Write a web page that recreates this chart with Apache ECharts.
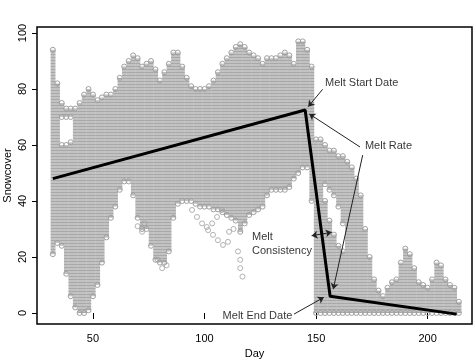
<!DOCTYPE html>
<html><head><meta charset="utf-8">
<script src="https://cdn.jsdelivr.net/npm/echarts@6/dist/echarts.min.js"></script>
<style>html,body{margin:0;padding:0;background:#fff}#c{width:474px;height:361px}</style>
</head><body><div id="c"></div>
<script>
// ---- data ----
const days = [32,34,36,38,40,42,44,46,48,50,52,54,56,58,60,62,64,66,68,70,72,74,76,78,80,82,84,86,88,90,
  92,94,96,98,100,102,104,106,108,110,112,114,116,118,120,122,124,126,128,130,132,134,136,138,140,142,144,146,148,150,
  152,154,156,158,160,162,164,166,168,170,172,174,176,178,180,182,184,186,188,190,192,194,196,198,200,202,204,206,208,210,212,214];
const cloudLow = [21,25,24,14,6,2,0,0,1,6,10,18,27,34,38,44,47,47,42,34,30,30,24,19,18,18,22,34,39,40,
  40,40,39,38,38,38,37,37,36,35,34,33,29,32,35,36,37,38,42,44,44,44,44,45,48,50,52,52,40,0,
  0,0,0,0,0,0,0,0,0,0,0,0,0,0,0,0,0,0,0,0,0,0,0,0,0,0,0,0,0,0,0,0];
const cloudHigh = [94,82,75,73,73,73,75,78,80,78,76,77,78,78,80,84,88,90,92,91,88,89,90,87,83,86,89,93,93,88,
  84,81,80,80,80,81,83,86,89,91,93,95,96,95,93,92,91,89,91,91,91,92,93,92,89,97,97,94,88,62,
  62,60,58,58,56,56,54,52,48,42,30,20,12,8,6,9,11,12,18,23,21,16,11,10,9,12,18,17,12,10,9,4];
// empty band inside a day's column (null = none)
const holeLow = [null,null,60,60,61,null,null,null,null,null,null,null,null,null,null,null,null,null,null,null,null,null,null,null,null,null,null,null,null,null,
  null,null,null,null,null,null,null,null,null,null,null,null,null,null,null,null,null,null,null,null,null,null,null,null,null,null,null,null,null,null,
  null,40,33,28,24,22,null,null,null,null,null,null,null,null,null,null,null,null,null,null,null,null,null,null,null,null,null,null,null,null,null,null];
const holeHigh = [null,null,70,70,70,null,null,null,null,null,null,null,null,null,null,null,null,null,null,null,null,null,null,null,null,null,null,null,null,null,
  null,null,null,null,null,null,null,null,null,null,null,null,null,null,null,null,null,null,null,null,null,null,null,null,null,null,null,null,null,null,
  null,46,44,42,38,32,null,null,null,null,null,null,null,null,null,null,null,null,null,null,null,null,null,null,null,null,null,null,null,null,null,null];
const scattered = [[70,31],[72,29],[73,32],[79,19],[81,16],[83,17],[94.4,36.8],[96.6,34.3],[98.9,32],[101,30.7],[103.4,32],
  [105.6,34.3],[107.8,36.8],[101.6,29.6],[103.8,27.9],[106,26],[108.3,24.3],[110.5,25.4],[111,29],[113,30],
  [115,22],[116,19],[116,16],[117,13]];
const fitLine = [[32,48],[145.1,72.5],[156.3,6],[213,-0.4]];
const xTicks = [50,100,150,200];
const yTicks = [0,20,40,60,80,100];
const noteText = ['Melt Start Date','Melt Rate','Melt\nConsistency','Melt End Date'];
const notePos = [[154,82],[171.9,59.6],[121.3,24.6],[108.1,-1.1]];
const arrowFrom = [[152.95,79.9],[169.7,59.3],[170.9,56.4],[148,27.6],[140.1,-0.4]];
const arrowTo   = [[146.5,73.7],[146.95,71.1],[157.7,8.5],[157,28.8],[153.5,5.6]];
const arrowBoth = [false,false,false,true,false];

// ---- drawing ----
const FONT = "'Liberation Sans', Arial, sans-serif";
const pc = document.createElement('canvas'); pc.width = 4; pc.height = 3;
const g = pc.getContext('2d');
g.fillStyle = '#c2c2c2'; g.fillRect(0,0,4,3);
g.fillStyle = '#a8a8a8'; g.fillRect(0,0,4,1);
const pattern = {image: pc, repeat: 'repeat'};

const cloudData = days.map((d,i)=>[d, cloudLow[i], cloudHigh[i],
  holeLow[i]==null?'-':holeLow[i], holeHigh[i]==null?'-':holeHigh[i]]);

function renderCloud(params, api){
  const d = api.value(0), l = api.value(1), h = api.value(2), gl = api.value(3), gh = api.value(4);
  const segs = (gl==null || isNaN(gl)) ? [[l,h]] : [[l,gl],[gh,h]];
  const x0 = api.coord([d-1,0])[0], x1 = api.coord([d+1,0])[0];
  const children = [];
  segs.forEach(([a,b])=>{
    const ya = api.coord([d,a])[1], yb = api.coord([d,b])[1];
    children.push({type:'rect', shape:{x:x0, y:yb, width:x1-x0+0.4, height:ya-yb}, style:{fill:pattern}});
    children.push({type:'circle', shape:{cx:(x0+x1)/2, cy:yb, r:2.5}, style:{fill:'none', stroke:'#a0a0a0', lineWidth:1}});
    children.push({type:'circle', shape:{cx:(x0+x1)/2, cy:ya, r:2.5}, style:{fill:'none', stroke:'#a0a0a0', lineWidth:1}});
  });
  return {type:'group', children};
}

const arrowData = arrowFrom.map((f,i)=>[
  {coord:f, symbol: arrowBoth[i]?'arrow':'none'},
  {coord:arrowTo[i], symbol:'arrow'}
]);

const chart = echarts.init(document.getElementById('c'), null, {renderer:'canvas'});
chart.setOption({
  animation:false,
  backgroundColor:'#fff',
  grid:{left:37, right:2, top:27, bottom:37, containLabel:false, outerBoundsMode:'none',
    show:true, borderColor:'#000', borderWidth:1.5, backgroundColor:'transparent'},
  xAxis:{type:'value', min:24.9, max:219.9, name:'Day', nameLocation:'middle', nameGap:24, nameMoveOverlap:false,
    nameTextStyle:{fontFamily:FONT, fontSize:11, color:'#000'},
    axisLine:{show:false}, splitLine:{show:false},
    axisTick:{show:true, length:6, inside:false, customValues:xTicks, lineStyle:{color:'#000', width:1}},
    axisLabel:{customValues:xTicks, margin:9, fontFamily:FONT, fontSize:11, color:'#000'}},
  yAxis:{type:'value', min:-3.93, max:102.14, name:'Snowcover', nameLocation:'middle', nameGap:24, nameMoveOverlap:false,
    nameTextStyle:{fontFamily:FONT, fontSize:11, color:'#000'},
    axisLine:{show:false}, splitLine:{show:false},
    axisTick:{show:true, length:5, customValues:yTicks, lineStyle:{color:'#000', width:1}},
    axisLabel:{customValues:yTicks, rotate:90, margin:9, fontFamily:FONT, fontSize:11, color:'#000'}},
  series:[
    {type:'custom', renderItem:renderCloud, data:cloudData, silent:true, z:1, clip:true},
    {type:'scatter', data:scattered, symbol:'circle', symbolSize:5, silent:true, z:2,
      itemStyle:{color:'rgba(0,0,0,0)', borderColor:'#a0a0a0', borderWidth:1}},
    {type:'line', data:fitLine, symbol:'none', silent:true, z:5, lineStyle:{color:'#000', width:3}},
    {type:'scatter', data:notePos.map((p,i)=>({value:p, name:noteText[i]})), symbolSize:0, silent:true, z:6,
      label:{show:true, position:'right', distance:0, formatter:p=>p.name, fontFamily:FONT, fontSize:11, color:'#000', lineHeight:14, align:'left', verticalAlign:'middle'},
      markLine:{silent:true, symbolSize:6, label:{show:false}, lineStyle:{color:'#222', width:1, type:'solid'}, data:arrowData}}
  ]
});
</script></body></html>
